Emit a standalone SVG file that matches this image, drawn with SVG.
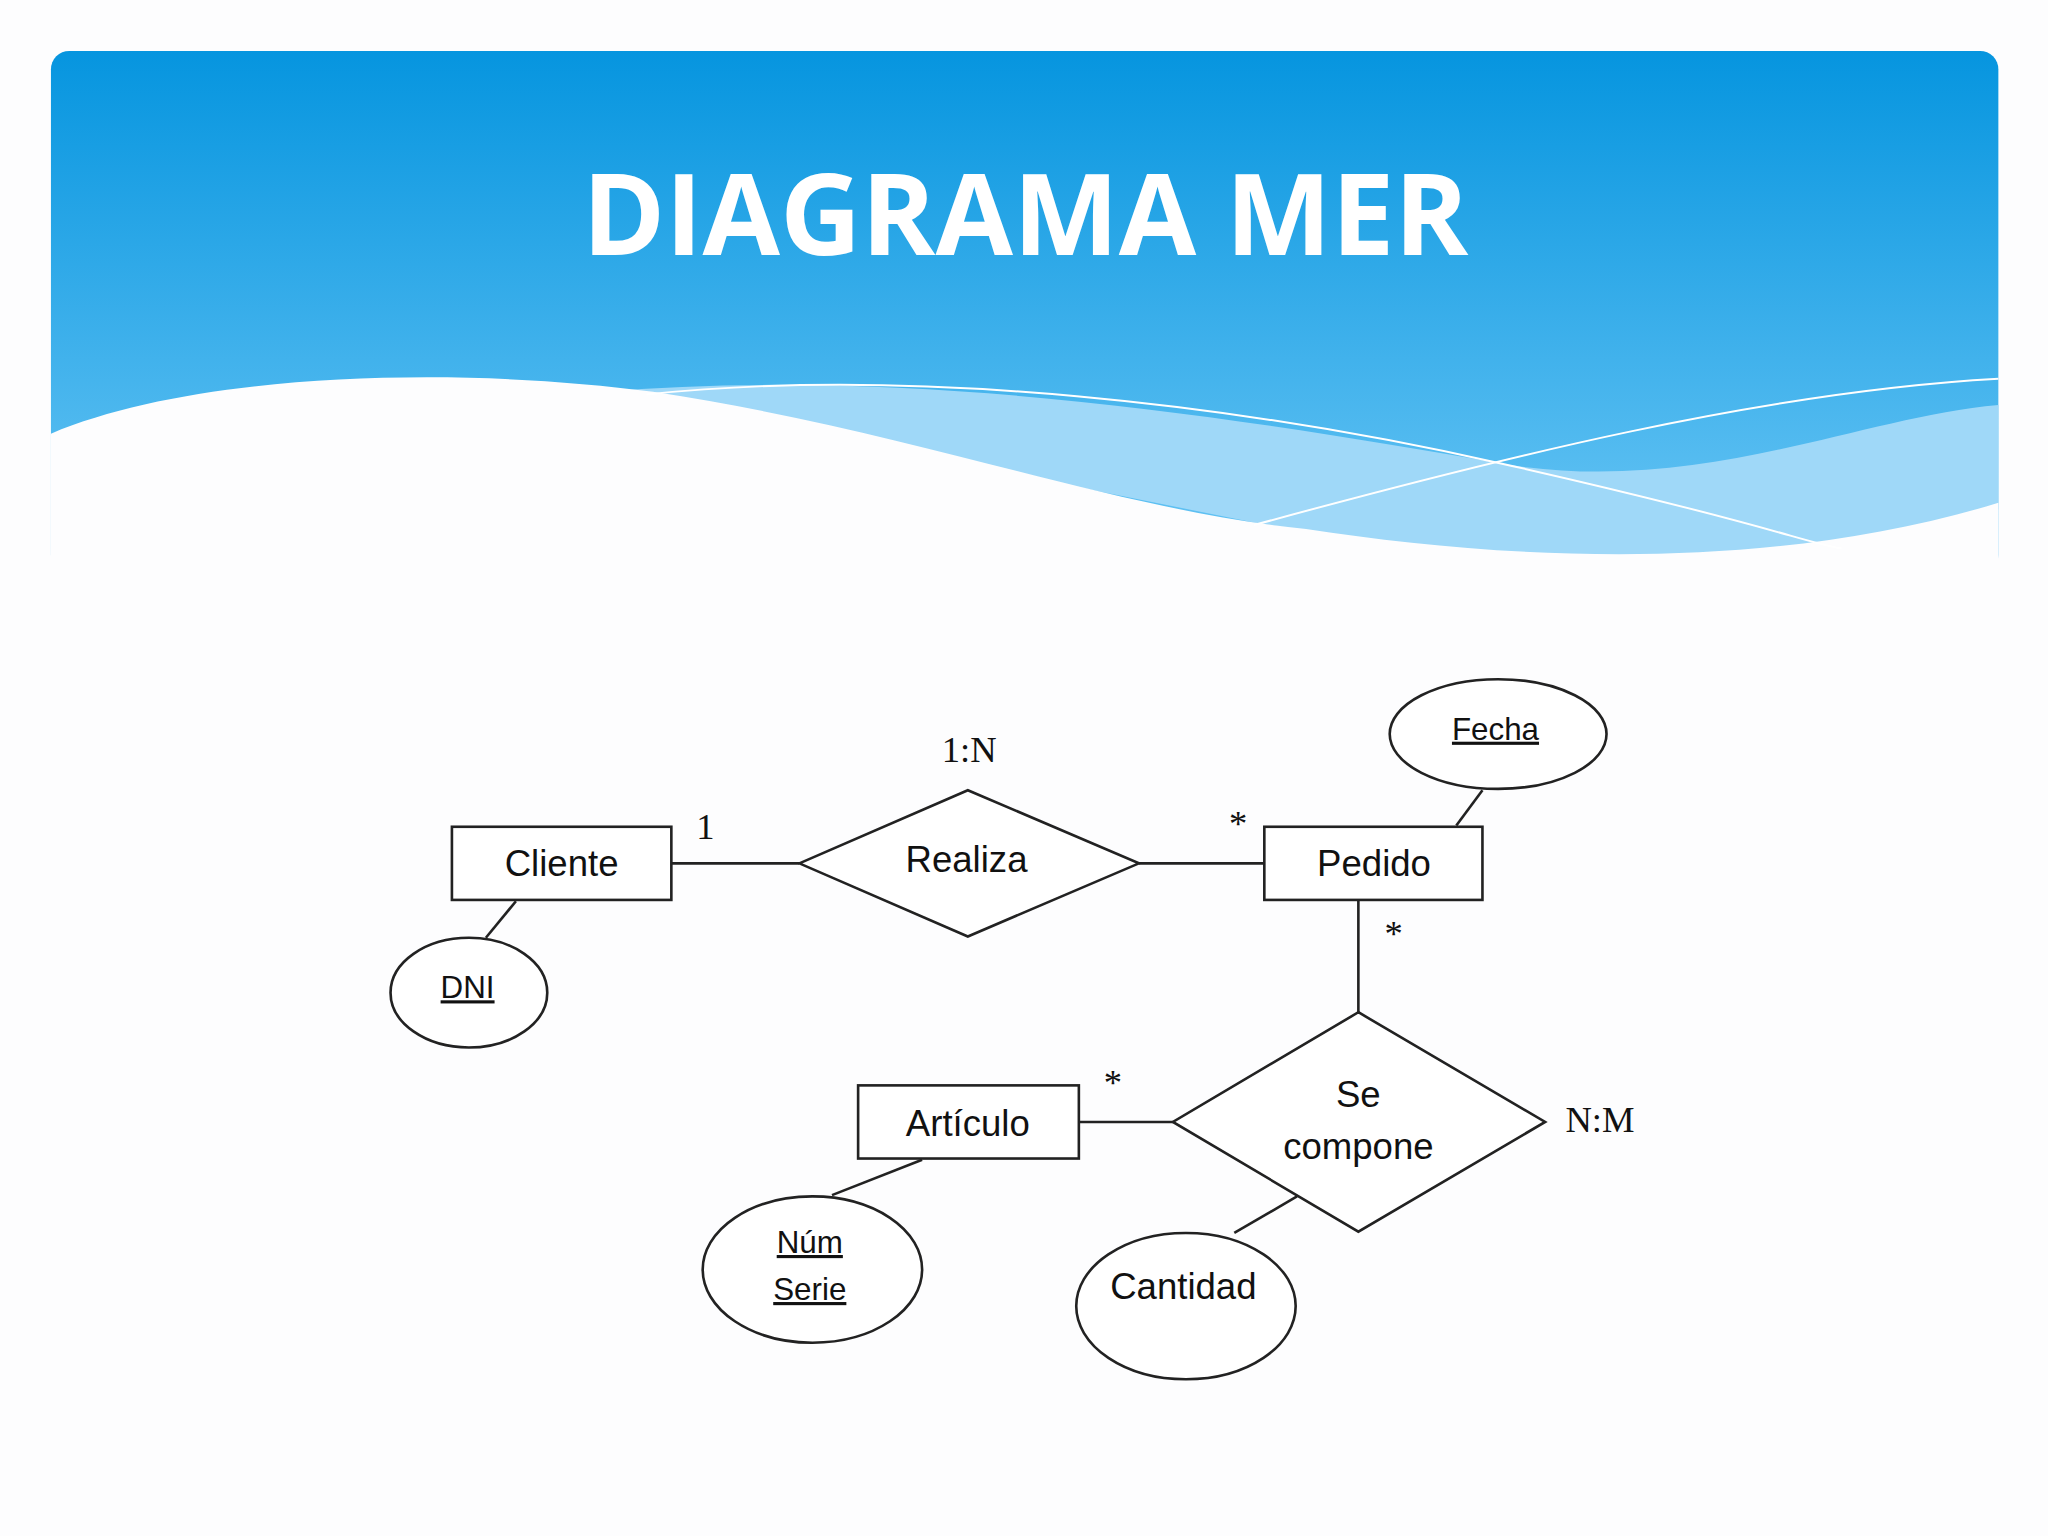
<svg xmlns="http://www.w3.org/2000/svg" width="2048" height="1536" viewBox="0 0 2048 1536">
<defs>
<linearGradient id="hg" x1="0" y1="0" x2="0" y2="1">
<stop offset="0" stop-color="#0695df"/>
<stop offset="1" stop-color="#6ac6f5"/>
</linearGradient>
<style>
.s{fill:#fff;stroke:#222;stroke-width:2}
.l{stroke:#222;stroke-width:2;fill:none}
.t{font-family:"Liberation Sans",Arial,sans-serif;font-size:28px;fill:#111;text-anchor:middle;dominant-baseline:middle}
.u{text-decoration:underline;font-size:24px}
.c{font-family:"Liberation Serif",serif;font-size:28px;fill:#111;text-anchor:middle;dominant-baseline:middle}
</style>
</defs>
<rect width="2048" height="1536" fill="#fdfdfe"/>
<g transform="scale(1.30612)">
<rect x="39" y="39" width="1491" height="400" rx="14" fill="url(#hg)"/>
<path d="M460,300 C700,280 950,320 1150,355 C1300,380 1420,320 1530,310 L1530,390 C1400,430 1200,440 960,400 Z" fill="#9fd8f8"/>
<path d="M39,332 C150,285 350,280 500,300 C700,330 850,390 1000,405 C1150,428 1350,440 1530,385 L1530,445 L39,445 Z" fill="#fdfdfe"/>
<path d="M495,302 C700,280 950,310 1150,355 S1380,415 1410,420" class="l" stroke="#fff" style="stroke:#fff;stroke-width:1.5"/>
<path d="M960,402 C1150,350 1350,300 1530,290" style="stroke:#fff;stroke-width:1.5;fill:none"/>
<text x="785" y="195" font-family="'Open Sans','Noto Sans',sans-serif" font-weight="bold" font-size="86" fill="#fff" text-anchor="middle">DIAGRAMA MER</text>
<g id="connectors">
<line class="l" x1="514" y1="661" x2="612" y2="661"/>
<line class="l" x1="872" y1="661" x2="968" y2="661"/>
<line class="l" x1="1115" y1="632" x2="1135" y2="605"/>
<line class="l" x1="372" y1="718" x2="395" y2="690"/>
<line class="l" x1="1040" y1="689" x2="1040" y2="775"/>
<line class="l" x1="826" y1="859" x2="898" y2="859"/>
<line class="l" x1="637" y1="915" x2="706" y2="888"/>
<line class="l" x1="945" y1="944" x2="993" y2="916"/>
</g>
<g id="cliente"><rect class="s" x="346" y="633" width="168" height="56"/><text class="t" x="430" y="663">Cliente</text></g>
<g id="realiza"><polygon class="s" points="612,661 741,605 872,661 741,717"/><text class="t" x="740" y="660">Realiza</text></g>
<g id="pedido"><rect class="s" x="968" y="633" width="167" height="56"/><text class="t" x="1052" y="663">Pedido</text></g>
<g id="fecha"><ellipse class="s" cx="1147" cy="562" rx="83" ry="42"/><text class="t u" x="1145" y="560">Fecha</text></g>
<g id="dni"><ellipse class="s" cx="359" cy="760" rx="60" ry="42"/><text class="t u" x="358" y="758">DNI</text></g>
<g id="secompone"><polygon class="s" points="1040,775 1183,859 1040,943 898,859"/><text class="t" x="1040" y="840">Se</text><text class="t" x="1040" y="880">compone</text></g>
<g id="articulo"><rect class="s" x="657" y="831" width="169" height="56"/><text class="t" x="741" y="862">Artículo</text></g>
<g id="numserie"><ellipse class="s" cx="622" cy="972" rx="84" ry="56"/><text class="t u" x="620" y="953">Núm</text><text class="t u" x="620" y="989">Serie</text></g>
<g id="cantidad"><ellipse class="s" cx="908" cy="1000" rx="84" ry="56"/><text class="t" x="906" y="987" font-size="24">Cantidad</text></g>
<text class="c" x="742" y="577">1:N</text>
<text class="c" x="540" y="636">1</text>
<text class="c" x="948" y="634">*</text>
<text class="c" x="1067" y="718">*</text>
<text class="c" x="852" y="832">*</text>
<text class="c" x="1225" y="860">N:M</text>
</g>
</svg>
